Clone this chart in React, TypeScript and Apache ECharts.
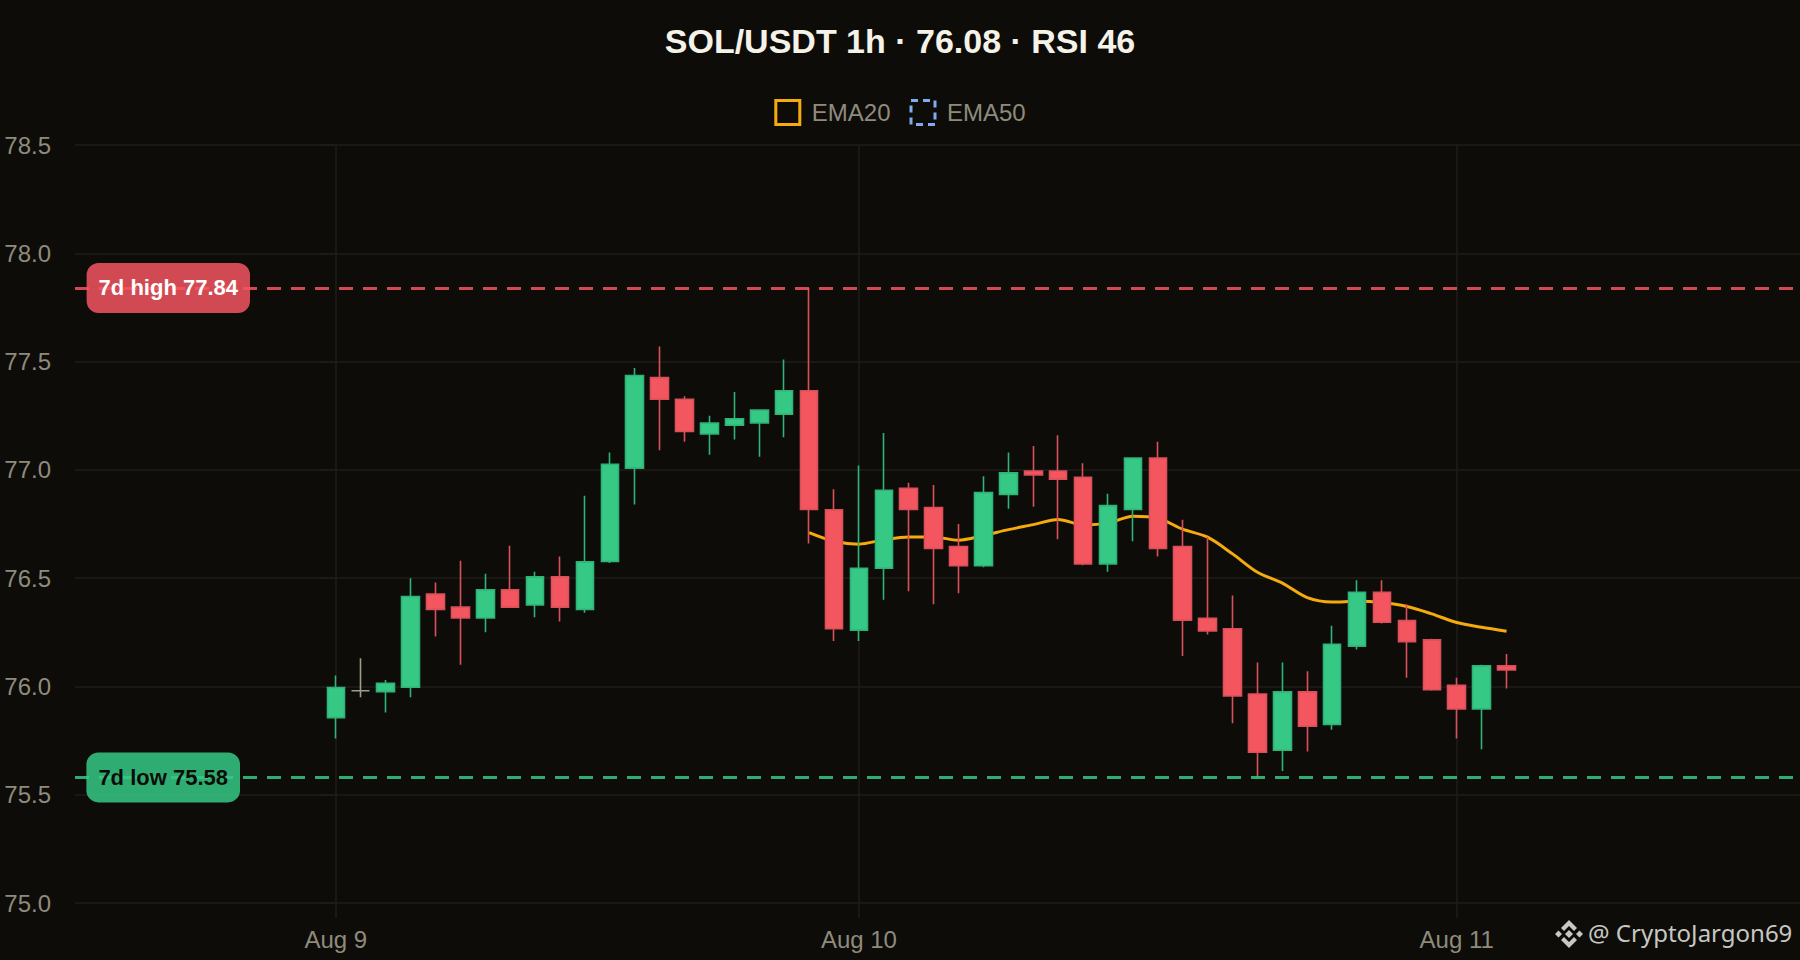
import React, { useEffect, useRef } from "react";
import * as echarts from "echarts";

const titleText = "SOL/USDT 1h · 76.08 · RSI 46";
const watermark = "@ CryptoJargon69";
const highValue = 77.84;
const lowValue = 75.58;
const yTicks = [75, 75.5, 76, 76.5, 77, 77.5, 78, 78.5];
const dayTicks = [0, 21, 45];
const dayLabels: Record<number, string> = { 0: "Aug 9", 21: "Aug 10", 45: "Aug 11" };

// open, close, low, high
const candles = [
  [75.856, 75.995, 75.76, 76.05],
  [75.98, 75.98, 75.95, 76.13],
  [75.976, 76.015, 75.88, 76.03],
  [75.996, 76.415, 75.95, 76.5],
  [76.426, 76.356, 76.23, 76.48],
  [76.366, 76.316, 76.1, 76.58],
  [76.316, 76.446, 76.25, 76.52],
  [76.446, 76.366, 76.365, 76.65],
  [76.376, 76.506, 76.32, 76.53],
  [76.506, 76.366, 76.3, 76.6],
  [76.356, 76.575, 76.34, 76.88],
  [76.577, 77.026, 76.57, 77.08],
  [77.008, 77.436, 76.84, 77.47],
  [77.426, 77.326, 77.09, 77.57],
  [77.326, 77.177, 77.13, 77.34],
  [77.166, 77.216, 77.07, 77.25],
  [77.206, 77.236, 77.14, 77.36],
  [77.217, 77.276, 77.06, 77.28],
  [77.257, 77.365, 77.15, 77.51],
  [77.365, 76.817, 76.66, 77.84],
  [76.815, 76.266, 76.21, 76.91],
  [76.26, 76.546, 76.21, 77.02],
  [76.546, 76.906, 76.4, 77.17],
  [76.915, 76.817, 76.44, 76.94],
  [76.826, 76.637, 76.38, 76.93],
  [76.646, 76.557, 76.43, 76.75],
  [76.557, 76.895, 76.55, 76.97],
  [76.886, 76.986, 76.82, 77.08],
  [76.995, 76.977, 76.83, 77.11],
  [76.995, 76.957, 76.68, 77.16],
  [76.966, 76.566, 76.56, 77.03],
  [76.566, 76.835, 76.53, 76.89],
  [76.817, 77.055, 76.67, 77.055],
  [77.055, 76.637, 76.6, 77.13],
  [76.646, 76.306, 76.14, 76.77],
  [76.315, 76.256, 76.24, 76.69],
  [76.266, 75.956, 75.83, 76.42],
  [75.965, 75.696, 75.58, 76.11],
  [75.705, 75.975, 75.61, 76.11],
  [75.975, 75.816, 75.7, 76.07],
  [75.825, 76.195, 75.8, 76.28],
  [76.186, 76.435, 76.17, 76.49],
  [76.435, 76.296, 76.29, 76.49],
  [76.304, 76.207, 76.04, 76.38],
  [76.215, 75.985, 75.98, 76.22],
  [76.005, 75.896, 75.76, 76.04],
  [75.896, 76.095, 75.71, 76.1],
  [76.095, 76.076, 75.99, 76.15],
];

const ema20Start = 19;
const ema20 = [
  76.71, 76.67, 76.657, 76.677, 76.69, 76.69, 76.675, 76.697, 76.724, 76.747,
  76.771, 76.746, 76.754, 76.786, 76.777, 76.726, 76.689, 76.612, 76.527, 76.477,
  76.41, 76.39, 76.393, 76.387, 76.369, 76.335, 76.295, 76.273, 76.255,
];
const ema50: number[] = [];

const BG = "#0d0c09";
const GRID = "#1e1d19";
const TICK_TEXT = "#8f8b7c";
const UP = "#36c985";
const DOWN = "#f45660";
const UP_BORDER = "#2fb377";
const DOWN_BORDER = "#d9505a";
const EMA20_COLOR = "#f5ab0c";
const EMA50_COLOR = "#82aaf0";
const FONT = '"Liberation Sans", Arial, sans-serif';

const logoPath =
  "M14 0 L22 8 L19 11 L14 6 L9 11 L6 8 Z M14 28 L22 20 L19 17 L14 22 L9 17 L6 20 Z M0 14 L3.5 10.5 L7 14 L3.5 17.5 Z M28 14 L24.5 10.5 L21 14 L24.5 17.5 Z M14 10 L18 14 L14 18 L10 14 Z";
echarts.graphic.registerShape("logo", echarts.graphic.extendPath(logoPath, {}) as any);

export default function App() {
  const ref = useRef<HTMLDivElement>(null);
  useEffect(() => {
    if (!ref.current) return;
    const chart = echarts.init(ref.current, undefined, { renderer: "svg" });
    const axisLine = { show: false };
    chart.setOption({
      animation: false,
      backgroundColor: BG,
      title: {
        text: titleText,
        left: "center",
        top: 19,
        textStyle: { color: "#f5f2e8", fontFamily: FONT, fontWeight: "bold", fontSize: 34 },
      },
      legend: {
        top: 94,
        left: "center",
        itemWidth: 24,
        itemHeight: 24,
        itemGap: 19,
        selectedMode: false,
        textStyle: { color: TICK_TEXT, fontFamily: FONT, fontSize: 24, padding: [0, 0, 0, 7] },
        data: [
          {
            name: "EMA20",
            icon: "rect",
            itemStyle: { color: "transparent", borderColor: EMA20_COLOR, borderWidth: 3 },
          },
          {
            name: "EMA50",
            icon: "rect",
            itemStyle: { color: "transparent", borderColor: EMA50_COLOR, borderWidth: 3, borderType: [7, 5] },
          },
        ],
      },
      grid: { left: 75, right: 0, top: 145, bottom: 57 },
      xAxis: {
        type: "value",
        min: -10.47,
        max: 58.78,
        axisLine,
        axisTick: { show: true, length: 15, customValues: dayTicks, lineStyle: { color: GRID, width: 1.5 } },
        axisLabel: {
          color: TICK_TEXT,
          fontFamily: FONT,
          fontSize: 24,
          margin: 24,
          customValues: dayTicks,
          formatter: (v: number) => dayLabels[v] ?? "",
        },
        splitLine: { show: true, lineStyle: { color: GRID, width: 1.5 } },
      },
      yAxis: {
        type: "value",
        min: 75,
        max: 78.5,
        interval: 0.5,
        axisLine,
        axisTick: { show: true, length: 15, lineStyle: { color: GRID, width: 1.5 } },
        axisLabel: {
          color: TICK_TEXT,
          fontFamily: FONT,
          fontSize: 24,
          margin: 24,
          padding: [0, 0, 3, 0],
          formatter: (v: number) => (yTicks.includes(v) ? v.toFixed(1) : ""),
        },
        splitLine: { show: true, lineStyle: { color: GRID, width: 1.5 } },
      },
      series: [
        {
          type: "candlestick",
          name: "SOL/USDT",
          barWidth: 18,
          data: candles.map((c, i) => [i, ...c]),
          itemStyle: {
            color: UP,
            color0: DOWN,
            borderColor: UP_BORDER,
            borderColor0: DOWN_BORDER,
            borderColorDoji: "#a09c8c",
            borderWidth: 1.6,
          },
          markLine: {
            symbol: "none",
            silent: true,
            animation: false,
            data: [
              {
                yAxis: highValue,
                lineStyle: { color: "rgba(244,86,96,0.85)", type: [14, 10], width: 3 },
                label: {
                  show: true,
                  formatter: "7d high 77.84",
                  position: "start",
                  distance: -175,
                  color: "#ffffff",
                  fontFamily: FONT,
                  fontWeight: "bold",
                  fontSize: 22,
                  padding: [14, 12],
                  borderRadius: 12,
                  backgroundColor: "rgba(244,86,96,0.85)",
                },
              },
              {
                yAxis: lowValue,
                lineStyle: { color: "rgba(54,201,133,0.85)", type: [14, 10], width: 3 },
                label: {
                  show: true,
                  formatter: "7d low 75.58",
                  position: "start",
                  distance: -165,
                  color: "#0d0c09",
                  fontFamily: FONT,
                  fontWeight: "bold",
                  fontSize: 22,
                  padding: [14, 12],
                  borderRadius: 12,
                  backgroundColor: "rgba(54,201,133,0.85)",
                },
              },
            ],
          },
          z: 2,
        },
        {
          type: "line",
          name: "EMA20",
          data: ema20.map((v, i) => [ema20Start + i, v]),
          showSymbol: false,
          smooth: 0.3,
          lineStyle: { color: EMA20_COLOR, width: 3 },
          z: 1,
        },
        {
          type: "line",
          name: "EMA50",
          data: ema50,
          showSymbol: false,
          lineStyle: { color: EMA50_COLOR, width: 2, type: "dotted" },
        },
      ],
      graphic: [
        {
          type: "logo",
          x: 1555,
          y: 920,
          style: { fill: "#c8c8c2" },
          z: 10,
        },
        {
          type: "text",
          x: 1588,
          y: 932,
          style: {
            text: watermark,
            fill: "#c8c8c2",
            font: '24px "Noto Sans", sans-serif',
            verticalAlign: "middle",
          },
          z: 10,
        },
      ],
    });
    return () => chart.dispose();
  }, []);
  return <div ref={ref} style={{ position: "fixed", left: 0, top: 0, width: 1800, height: 960 }} />;
}
